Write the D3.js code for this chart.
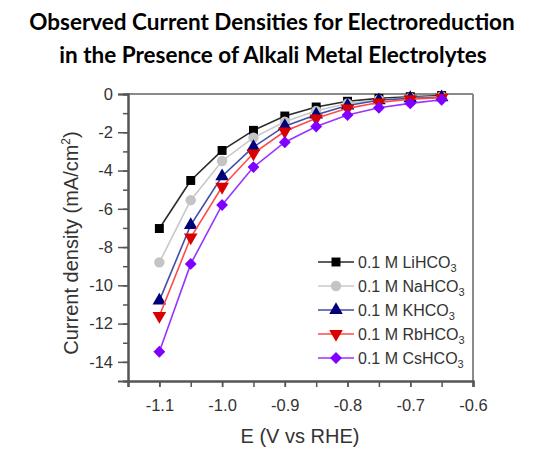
<!DOCTYPE html>
<html><head><meta charset="utf-8">
<script src="https://cdn.jsdelivr.net/npm/d3@7"></script>
<style>
html,body{margin:0;padding:0;background:#fff;}
svg{display:block;}
</style></head>
<body>
<svg id="chart" width="548" height="457"></svg>
<script>
const potentials = [-1.10, -1.05, -1.00, -0.95, -0.90, -0.85, -0.80, -0.75, -0.70, -0.65];
const liHCO3 = [-7.03, -4.52, -2.95, -1.90, -1.15, -0.68, -0.38, -0.23, -0.14, -0.08];
const naHCO3 = [-8.80, -5.55, -3.50, -2.28, -1.45, -0.88, -0.50, -0.30, -0.20, -0.13];
const kHCO3  = [-10.80, -6.85, -4.30, -2.77, -1.68, -1.08, -0.60, -0.33, -0.22, -0.17];
const rbHCO3 = [-11.60, -7.50, -4.85, -3.10, -1.95, -1.27, -0.75, -0.44, -0.27, -0.19];
const csHCO3 = [-13.47, -8.88, -5.80, -3.82, -2.52, -1.70, -1.10, -0.72, -0.49, -0.30];
const seriesNames = ["0.1 M LiHCO", "0.1 M NaHCO", "0.1 M KHCO", "0.1 M RbHCO", "0.1 M CsHCO"];
const xTicks = [-1.1, -1.0, -0.9, -0.8, -0.7, -0.6];
const yTicks = [0, -2, -4, -6, -8, -10, -12, -14];

const series = [
  {name: seriesNames[0], values: liHCO3, line: "#2a2a2a", fill: "#000000", shape: "square"},
  {name: seriesNames[1], values: naHCO3, line: "#c8c8c8", fill: "#c4c4c4", shape: "circle"},
  {name: seriesNames[2], values: kHCO3,  line: "#3d4fa8", fill: "#00007a", shape: "up"},
  {name: seriesNames[3], values: rbHCO3, line: "#ff4a4a", fill: "#d80000", shape: "down"},
  {name: seriesNames[4], values: csHCO3, line: "#9933ff", fill: "#8000ff", shape: "diamond"}
];

const svg = d3.select("#chart");
const x = d3.scaleLinear().domain([-1.15, -0.6]).range([128, 473]);
const y = d3.scaleLinear().domain([-15, 0]).range([381, 94]);

// Title
const title = svg.append("text").attr("text-anchor", "middle")
  .attr("font-family", "Lato, 'Open Sans', sans-serif").attr("font-weight", "bold")
  .attr("font-size", 22.5).attr("fill", "#000");
title.append("tspan").attr("x", 272).attr("y", 30).text("Observed Current Densities for Electroreduction");
title.append("tspan").attr("x", 273).attr("y", 63).text("in the Presence of Alkali Metal Electrolytes");

const axisColor = "#555";
const font = "Arial, 'Liberation Sans', sans-serif";

// frame top/right
svg.append("line").attr("x1", x(-1.15)).attr("x2", x(-0.6)).attr("y1", y(0)).attr("y2", y(0))
  .attr("stroke", "#8a8a8a").attr("stroke-width", 2);
svg.append("line").attr("x1", x(-0.6)).attr("x2", x(-0.6)).attr("y1", y(0)).attr("y2", y(-15))
  .attr("stroke", "#8a8a8a").attr("stroke-width", 2);

// X axis
const xMinor = d3.range(-1.15, -0.59, 0.05).map(v => +v.toFixed(2));
const xAxisMinor = d3.axisBottom(x).tickValues(xMinor).tickSize(6).tickFormat("");
const gxm = svg.append("g").attr("transform", `translate(0,${y(-15)})`).call(xAxisMinor);
const xAxis = d3.axisBottom(x).tickValues(xTicks).tickSize(6).tickPadding(12)
  .tickFormat(d3.format(".1f"));
const gx = svg.append("g").attr("transform", `translate(0,${y(-15)})`).call(xAxis);

// Y axis
const yMinor = d3.range(-15, 0.5, 1);
const gym = svg.append("g").attr("transform", `translate(${x(-1.15)},0)`)
  .call(d3.axisLeft(y).tickValues(yMinor).tickSize(5).tickFormat(""));
const gy = svg.append("g").attr("transform", `translate(${x(-1.15)},0)`)
  .call(d3.axisLeft(y).tickValues(yTicks).tickSize(10).tickPadding(5).tickFormat(d3.format("d")));

[gx, gxm, gy, gym].forEach(g => {
  g.attr("font-family", font);
  g.select(".domain").attr("stroke", axisColor).attr("stroke-width", 2);
  g.selectAll(".tick line").attr("stroke", axisColor).attr("stroke-width", 1.5);
  g.selectAll(".tick text").attr("font-family", font).attr("font-size", 16.5).attr("fill", "#333");
});
gy.selectAll(".tick text").text(d => d === 0 ? "0" : d3.format("d")(d).replace("−", "-"));
gx.selectAll(".tick text").text(d => d3.format(".1f")(d).replace("−", "-"));

// Axis labels
svg.append("text").attr("x", 300).attr("y", 443).attr("text-anchor", "middle")
  .attr("font-family", font).attr("font-size", 20).attr("fill", "#333").text("E (V vs RHE)");
const yl = svg.append("text").attr("transform", `translate(78,243) rotate(-90)`)
  .attr("text-anchor", "middle").attr("font-family", font).attr("font-size", 20).attr("fill", "#333");
yl.append("tspan").text("Current density (mA/cm");
yl.append("tspan").attr("font-size", 12).attr("dy", -8).text("2");
yl.append("tspan").attr("dy", 8).text(")");

// marker generator
function symbolPath(shape) {
  switch (shape) {
    case "square": return d3.symbol(d3.symbolSquare, 80)();
    case "circle": return d3.symbol(d3.symbolCircle, 85)();
    case "up": return d3.symbol(d3.symbolTriangle, 80)();
    case "down": return d3.symbol(d3.symbolTriangle, 80)();
    case "diamond": return d3.symbol(d3.symbolSquare, 70)();
  }
}
function symbolRot(shape) {
  return shape === "down" ? 180 : shape === "diamond" ? 45 : 0;
}

const line = d3.line().x((d, i) => x(potentials[i])).y(d => y(d));

series.forEach(s => {
  const g = svg.append("g");
  g.append("path").attr("d", line(s.values)).attr("fill", "none")
    .attr("stroke", s.line).attr("stroke-width", 1.6);
  g.selectAll("path.m").data(s.values).enter().append("path").attr("class", "m")
    .attr("d", symbolPath(s.shape))
    .attr("transform", (d, i) => `translate(${x(potentials[i])},${y(d)}) rotate(${symbolRot(s.shape)})`)
    .attr("fill", s.fill);
});

// Legend
const legendY = [262, 286, 310, 334, 358];
series.forEach((s, i) => {
  const g = svg.append("g").attr("transform", `translate(0,${legendY[i]})`);
  g.append("line").attr("x1", 318).attr("x2", 354).attr("y1", 0).attr("y2", 0)
    .attr("stroke", s.line).attr("stroke-width", 1.6);
  g.append("path").attr("d", symbolPath(s.shape))
    .attr("transform", `translate(336,0) rotate(${symbolRot(s.shape)})`).attr("fill", s.fill);
  const t = g.append("text").attr("x", 358).attr("y", 6).attr("font-family", font)
    .attr("font-size", 16).attr("fill", "#333");
  t.append("tspan").text(s.name);
  t.append("tspan").attr("font-size", 11).attr("dy", 4).text("3");
});
</script>
</body></html>
